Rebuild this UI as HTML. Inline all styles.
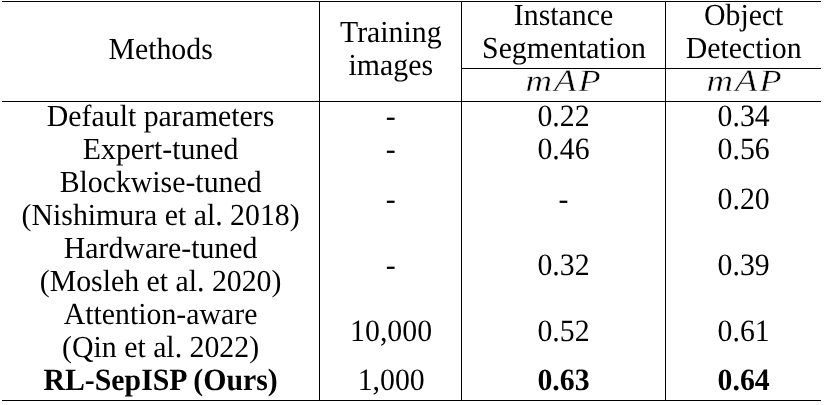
<!DOCTYPE html>
<html><head><meta charset="utf-8">
<style>
html,body{margin:0;padding:0;background:#fff;}
body{width:825px;height:405px;position:relative;overflow:hidden;font-family:"Liberation Serif",serif;color:#000;text-rendering:geometricPrecision;}
.t{position:absolute;white-space:nowrap;font-size:29.8px;line-height:34px;height:34px;transform:translateX(-50%) scaleY(1.025);transform-origin:50% 26px;text-align:center;}
.n{transform:translateX(-50%) scaleY(1.04);}
.b{font-weight:bold;}
.m{position:absolute;white-space:nowrap;font-style:italic;font-size:30.9px;line-height:34px;height:34px;letter-spacing:1.5px;transform:translateX(-50%) scaleX(1.19);text-align:center;-webkit-text-stroke:0.45px #fff;}
.l{position:absolute;background:#000;}
</style></head><body>
<div class="l" style="left:1.50px;top:0.85px;width:819.80px;height:1.25px"></div>
<div class="l" style="left:1.50px;top:100.60px;width:819.80px;height:1.30px"></div>
<div class="l" style="left:1.50px;top:399.60px;width:819.80px;height:1.35px"></div>
<div class="l" style="left:462.00px;top:67.70px;width:359.30px;height:1.25px"></div>
<div class="l" style="left:318.90px;top:1.00px;width:1.20px;height:400.00px"></div>
<div class="l" style="left:460.90px;top:1.00px;width:1.20px;height:400.00px"></div>
<div class="l" style="left:664.90px;top:1.00px;width:1.20px;height:400.00px"></div>
<div class="t" style="left:160.60px;top:33.00px">Methods</div>
<div class="t" style="left:390.80px;top:16.00px">Training</div>
<div class="t" style="left:390.80px;top:49.00px">images</div>
<div class="t" style="left:563.50px;top:-1.00px">Instance</div>
<div class="t" style="left:564.00px;top:32.00px">Segmentation</div>
<div class="t" style="left:743.70px;top:-1.00px">Object</div>
<div class="t" style="left:743.70px;top:32.00px">Detection</div>
<div class="t" style="left:160.60px;top:100.00px">Default parameters</div>
<div class="t" style="left:160.60px;top:133.00px">Expert-tuned</div>
<div class="t" style="left:160.60px;top:166.00px">Blockwise-tuned</div>
<div class="t" style="left:160.60px;top:199.00px">(Nishimura et al. 2018)</div>
<div class="t" style="left:160.60px;top:232.00px">Hardware-tuned</div>
<div class="t" style="left:160.60px;top:265.00px">(Mosleh et al. 2020)</div>
<div class="t" style="left:160.60px;top:298.00px">Attention-aware</div>
<div class="t" style="left:160.60px;top:331.00px">(Qin et al. 2022)</div>
<div class="t b n" style="left:160.60px;top:364.00px">RL-SepISP (Ours)</div>
<div class="t" style="left:390.80px;top:100.00px">-</div>
<div class="t" style="left:390.80px;top:133.00px">-</div>
<div class="t" style="left:390.80px;top:183.00px">-</div>
<div class="t" style="left:390.80px;top:249.00px">-</div>
<div class="t n" style="left:391.10px;top:315.00px">10,000</div>
<div class="t n" style="left:391.20px;top:364.00px">1,000</div>
<div class="t n" style="left:563.50px;top:100.00px">0.22</div>
<div class="t n" style="left:563.50px;top:133.00px">0.46</div>
<div class="t" style="left:563.50px;top:183.00px">-</div>
<div class="t n" style="left:563.50px;top:249.00px">0.32</div>
<div class="t n" style="left:563.50px;top:315.00px">0.52</div>
<div class="t b n" style="left:563.50px;top:364.00px">0.63</div>
<div class="t n" style="left:743.70px;top:100.00px">0.34</div>
<div class="t n" style="left:743.70px;top:133.00px">0.56</div>
<div class="t n" style="left:743.70px;top:183.00px">0.20</div>
<div class="t n" style="left:743.70px;top:249.00px">0.39</div>
<div class="t n" style="left:743.70px;top:315.00px">0.61</div>
<div class="t b n" style="left:743.70px;top:364.00px">0.64</div>
<div class="m" style="left:564.30px;top:63.60px">mAP</div>
<div class="m" style="left:744.50px;top:63.60px">mAP</div>
</body></html>
